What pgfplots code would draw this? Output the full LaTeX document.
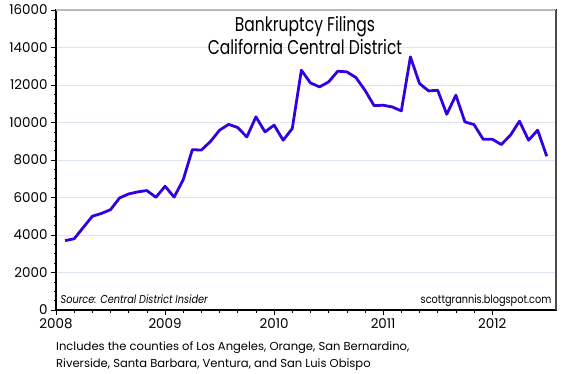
\documentclass[border=0pt]{standalone}
\usepackage{pgfplots}
\pgfplotsset{compat=1.18}
\usepackage{fontspec}
\setmainfont{Poppins}
\newfontfamily\narrowfont{Poppins}[FakeStretch=0.78]
\newfontfamily\narrowtext{Poppins}[FakeStretch=0.85]
\definecolor{lineblue}{RGB}{50,0,225}
\definecolor{gridc}{RGB}{220,228,240}
\pgfplotstableread{
x y
2008.0833 3700
2008.1667 3800
2008.2500 4400
2008.3333 5000
2008.4167 5150
2008.5000 5350
2008.5833 5980
2008.6667 6190
2008.7500 6300
2008.8333 6370
2008.9167 6010
2009.0000 6600
2009.0833 6020
2009.1667 6950
2009.2500 8550
2009.3333 8530
2009.4167 8990
2009.5000 9590
2009.5833 9900
2009.6667 9730
2009.7500 9230
2009.8333 10300
2009.9167 9500
2010.0000 9860
2010.0833 9055
2010.1667 9680
2010.2500 12790
2010.3333 12110
2010.4167 11900
2010.5000 12165
2010.5833 12735
2010.6667 12700
2010.7500 12400
2010.8333 11720
2010.9167 10900
2011.0000 10920
2011.0833 10830
2011.1667 10620
2011.2500 13500
2011.3333 12080
2011.4167 11685
2011.5000 11720
2011.5833 10440
2011.6667 11455
2011.7500 10030
2011.8333 9890
2011.9167 9110
2012.0000 9110
2012.0833 8825
2012.1667 9320
2012.2500 10070
2012.3333 9055
2012.4167 9590
2012.5000 8200
}\filings
\begin{document}
\begin{tikzpicture}
\begin{axis}[
  scale only axis, width=500bp, height=300bp,
  xmin=2008, xmax=2012.585, ymin=0, ymax=16000,
  xtick={2008,2009,2010,2011,2012},
  ytick={0,2000,4000,6000,8000,10000,12000,14000,16000},
  minor x tick num=5, minor y tick num=3,
  tick pos=left, tick align=outside,
  major tick length=5bp, minor tick length=2.5bp,
  every tick/.style={black, line width=0.6pt},
  ymajorgrids, grid style={gridc, line width=0.8pt},
  axis line style={black, line width=1.2pt},
  /pgf/number format/assume math mode=true,
  /pgf/number format/1000 sep={},
  scaled y ticks=false,
  tick label style={font=\fontsize{13.5}{14}\selectfont},
  clip=false,
]
\addplot[lineblue, line width=2.8pt, line join=round] table[x=x,y=y] {\filings};
\coordinate (bl) at (rel axis cs:0,0);
\coordinate (tr) at (rel axis cs:1,1);
\node[anchor=base, font=\narrowfont\fontsize{20}{21}\selectfont] at (rel axis cs:0.498,0.927) {Bankruptcy Filings};
\node[anchor=base, font=\narrowfont\fontsize{20}{21}\selectfont] at (rel axis cs:0.498,0.85) {California Central District};
\node[anchor=base west, inner sep=0pt, font=\narrowtext\itshape\fontsize{11.5}{12}\selectfont] at (rel axis cs:0.009,0.02) {Source: Central District Insider};
\node[anchor=base east, inner sep=0pt, font=\narrowtext\fontsize{11.5}{12}\selectfont] at (rel axis cs:0.991,0.02) {scottgrannis.blogspot.com};
\end{axis}
\draw[gray!55, line width=1.4pt] (bl |- tr) -- (tr);
\draw[black!70, line width=1.6pt] (tr) -- (tr |- bl);
\node[anchor=base west, inner sep=0pt, font=\fontsize{11.6}{12}\selectfont] at ([yshift=-40bp]bl) {Includes the counties of Los Angeles, Orange, San Bernardino,};
\node[anchor=base west, inner sep=0pt, font=\fontsize{11.6}{12}\selectfont] at ([yshift=-57bp]bl) {Riverside, Santa Barbara, Ventura, and San Luis Obispo};
\pgfresetboundingbox
\path[use as bounding box] ([xshift=-56bp,yshift=-64bp]bl) rectangle ([xshift=10bp,yshift=10bp]tr);
\end{tikzpicture}
\end{document}
